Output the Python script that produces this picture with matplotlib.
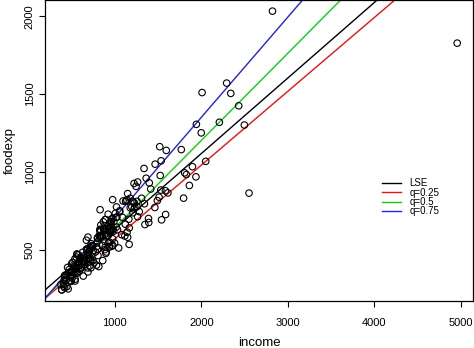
import matplotlib
matplotlib.use("Agg")
import matplotlib.pyplot as plt
import numpy as np

plt.rcParams['font.family'] = ['Liberation Sans', 'DejaVu Sans']

income = [
    420.1577, 541.4117, 901.1575, 639.0802, 750.8756, 945.7989, 829.3979, 979.1648, 1309.8789, 1492.3987,
    502.8390, 616.7168, 790.9225, 555.8786, 713.4412, 838.7561, 535.0766, 596.4408, 924.5619, 487.7583,
    692.6397, 997.8770, 506.9995, 654.1587, 933.9193, 433.6813, 587.5962, 896.4746, 454.4782, 584.9989,
    800.7990, 502.4369, 713.5197, 906.0006, 880.5969, 796.8289, 854.8791, 1167.3716, 523.8000, 670.7792,
    377.0584, 851.5430, 1121.0937, 625.5179, 805.5377, 558.5812, 884.4005, 1257.4989, 2051.1789, 1466.3330,
    730.0989, 2432.3910, 940.9218, 1177.8547, 1222.5939, 1519.5811, 687.6638, 953.1192, 953.1192, 953.1192,
    939.0418, 1283.4025, 1511.5789, 1342.5821, 511.7980, 689.7988, 1532.3074, 1056.0808, 387.3195, 387.3195,
    410.9987, 499.7510, 832.7554, 614.9986, 887.4658, 1595.1611, 1807.9520, 541.2006, 1057.6767, 800.7990,
    1245.6964, 1201.0002, 634.4002, 956.2315, 1148.6010, 1768.8236, 2822.5330, 922.3548, 2293.1920, 627.4726,
    889.9809, 1162.2000, 1197.0794, 530.7972, 1142.1526, 1088.0039, 484.6612, 1536.0201, 678.8974, 671.8802,
    690.4683, 860.6948, 873.3095, 894.4598, 1148.6470, 926.8762, 839.0414, 829.4974, 1264.0043, 1937.9771,
    698.8317, 920.4199, 1897.5711, 891.6824, 889.6784, 1221.4818, 544.5991, 1031.4491, 1462.9497, 830.4353,
    975.0415, 1337.9983, 867.6427, 725.7459, 989.0056, 1525.0005, 672.1960, 923.3977, 472.3215, 590.7601,
    831.7983, 1139.4945, 507.5169, 576.1972, 696.5991, 650.8180, 949.5802, 497.1193, 570.1674, 724.7306,
    408.3399, 638.6713, 1225.7890, 715.3701, 800.4708, 975.5974, 1613.7565, 608.5019, 958.6634, 835.9426,
    1024.8177, 1006.4353, 726.0000, 494.4174, 776.5958, 415.4407, 581.3599, 643.3571, 2551.6615, 1795.3226,
    1165.7734, 815.6212, 1264.2066, 1095.4056, 447.4479, 1178.9742, 975.8023, 1017.8522, 423.8798, 558.7767,
    943.2487, 1348.3002, 2340.6174, 587.1792, 1540.9741, 1115.8481, 1044.6843, 1389.7929, 2497.7860, 1585.3809,
    1862.0438, 2008.8546, 697.3099, 571.2517, 598.3465, 461.0977, 977.1107, 883.9849, 718.3594, 543.8971,
    1587.3480, 4957.8130, 969.6838, 419.9980, 561.9990, 689.5988, 1398.5203, 820.8168, 875.1716, 1392.4499,
    1256.3174, 1362.8590, 1999.2552, 1209.4730, 1125.0356, 1827.4010, 1014.1540, 880.3944, 873.7375, 951.4432,
    473.0022, 601.0030, 713.9979, 829.2984, 959.7953, 1212.9613, 958.8743, 1129.4431, 1943.0419, 539.6388,
    463.5990, 562.6374, 736.7566, 1415.4461, 2208.7897, 636.0009, 759.4010, 1078.8382, 748.6413, 987.6417,
    788.0961, 1020.0225, 1230.9235, 440.5174, 743.0772,
]

foodexp = [
    255.8394, 310.9587, 485.6800, 402.9974, 495.5608, 633.7978, 630.7566, 700.4409, 830.9586, 815.3602,
    338.0014, 412.3613, 520.0006, 452.4015, 512.7201, 658.8395, 392.5995, 443.5586, 640.1164, 333.8394,
    466.9583, 543.3969, 317.7198, 424.3209, 518.9617, 338.0014, 419.6412, 476.3200, 386.3602, 423.2783,
    503.3572, 354.6389, 497.3182, 588.5195, 654.5971, 550.7274, 528.3770, 640.4813, 401.3204, 435.9990,
    276.5606, 588.3488, 664.1978, 444.8602, 462.8995, 377.7792, 553.1504, 810.8962, 1067.9541, 1049.8788,
    522.7012, 1424.8047, 517.9196, 830.9586, 925.5795, 1162.0024, 383.4580, 621.1173, 621.1173, 621.1173,
    548.6002, 745.2353, 837.8005, 795.3402, 418.5976, 508.7974, 883.2780, 742.5276, 242.3202, 242.3202,
    266.0010, 408.4992, 614.7588, 385.3184, 515.6200, 1138.1620, 993.9630, 299.1993, 750.3202, 572.0807,
    907.3969, 811.5776, 427.7975, 649.9985, 860.6002, 1143.4211, 2032.6792, 590.6183, 1570.3911, 483.4800,
    600.4804, 696.2021, 774.7962, 390.5984, 612.5619, 708.7622, 296.9192, 1071.4627, 496.5976, 503.3974,
    357.6411, 430.3376, 624.6990, 582.5413, 580.2215, 543.8807, 588.6372, 627.9999, 712.1012, 968.3949,
    482.5816, 593.1694, 1033.5658, 693.6795, 693.6795, 761.2791, 361.3981, 628.4522, 771.4486, 757.1180,
    821.5970, 1022.3202, 679.4407, 538.7491, 679.9981, 977.0033, 561.2015, 728.3997, 372.3186, 361.5210,
    620.8006, 819.9964, 360.8780, 395.7608, 442.0001, 404.0384, 670.7993, 297.5702, 353.4882, 383.9376,
    284.8008, 431.1000, 801.3518, 448.4513, 577.9111, 570.5210, 865.3205, 444.5578, 680.4198, 576.2779,
    708.4787, 734.2356, 433.0010, 327.4188, 485.5198, 305.4390, 468.0008, 459.8177, 863.9199, 831.4407,
    534.7610, 392.0502, 934.9752, 813.3081, 263.7100, 769.0838, 630.5863, 645.9874, 319.5584, 348.4518,
    614.5068, 662.0096, 1504.3708, 406.2180, 692.1689, 588.1371, 511.2609, 700.5600, 1301.1451, 879.0660,
    912.8851, 1509.7812, 484.0605, 399.6703, 444.1001, 248.8101, 527.8014, 500.6313, 436.8107, 374.7990,
    726.3921, 1827.2000, 523.4911, 334.9998, 473.2009, 581.2029, 929.7540, 591.1974, 637.5483, 674.9509,
    776.7589, 959.5170, 1250.9643, 737.8201, 810.6772, 983.0009, 708.8968, 633.1200, 631.7982, 608.6419,
    300.9999, 377.9984, 397.0015, 588.5195, 681.7616, 807.3603, 696.8011, 811.1962, 1305.7201, 442.0001,
    353.6013, 468.0008, 526.7573, 890.2390, 1318.8033, 331.0005, 416.4015, 596.8406, 429.0399, 619.6408,
    400.7990, 775.0209, 772.7611, 306.5191, 522.6019,
]

if len(income) != len(foodexp):
    raise ValueError(f"length mismatch: {len(income)} vs {len(foodexp)}")

# fitted lines: (label, intercept, slope, colour)
fit_labels = ["LSE", "q=0.25", "q=0.5", "q=0.75"]
intercepts = [147.4754, 95.4835, 81.4823, 62.3966]
slopes = [0.4852, 0.4741, 0.5602, 0.6440]
colors = ["black", "#ee1111", "#11cc11", "#2222dd"]

x = np.array(income)
y = np.array(foodexp)

fig = plt.figure(figsize=(4.74, 3.48), dpi=100)
ax = fig.add_axes([0.095, 0.135, 0.903, 0.865])

ax.scatter(x, y, s=22, facecolors="none", edgecolors="black", linewidths=0.8, zorder=3)

# R-style 4% padding on both axes
xr = x.max() - x.min()
yr = y.max() - y.min()
ax.set_xlim(x.min() - 0.04 * xr, x.max() + 0.04 * xr)
ax.set_ylim(y.min() - 0.04 * yr, y.max() + 0.04 * yr)

for lab, a, b, c in zip(fit_labels, intercepts, slopes, colors):
    ax.axline((0, a), slope=b, color=c, lw=1.0, label=lab, zorder=2)

ax.set_xticks([1000, 2000, 3000, 4000, 5000])
ax.set_yticks([500, 1000, 1500, 2000])
ax.tick_params(axis="both", direction="out", length=4, width=0.8, labelsize=8)
ax.tick_params(axis="x", pad=8.5)
ax.tick_params(axis="y", pad=3.5)
for t in ax.get_yticklabels():
    t.set_rotation(90)
    t.set_va("center")

ax.set_xlabel("income", fontsize=9.5, labelpad=6)
ax.set_ylabel("foodexp", fontsize=9.5, labelpad=6.5)

for s in ax.spines.values():
    s.set_linewidth(0.9)

ax.legend(loc="upper left", bbox_to_anchor=(0.778, 0.42), frameon=False, fontsize=7,
          handlelength=1.95, handletextpad=0.9, labelspacing=-0.08, borderaxespad=0)

fig.savefig("out.png", dpi=100)
